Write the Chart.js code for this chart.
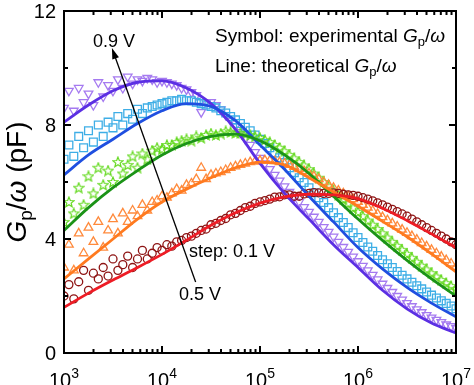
<!DOCTYPE html>
<html>
<head>
<meta charset="utf-8">
<script src="https://cdn.jsdelivr.net/npm/chart.js@4"></script>
<style>
html, body { margin: 0; padding: 0; background: #fff; }
</style>
</head>
<body>
<canvas id="myChart" width="474" height="385"></canvas>
<script>
// measured frequencies (Hz), 20 per decade
var freqExp = [1000, 1122, 1259, 1413, 1585, 1778, 1995, 2239, 2512, 2818,
  3162, 3548, 3981, 4467, 5012, 5623, 6310, 7079, 7943, 8913,
  10000, 11220, 12589, 14125, 15849, 17783, 19953, 22387, 25119, 28184,
  31623, 35481, 39811, 44668, 50119, 56234, 63096, 70795, 79433, 89125,
  100000, 112202, 125893, 141254, 158489, 177828, 199526, 223872, 251189, 281838,
  316228, 354813, 398107, 446684, 501187, 562341, 630957, 707946, 794328, 891251,
  1000000, 1122018, 1258925, 1412538, 1584893, 1778279, 1995262, 2238721, 2511886, 2818383,
  3162278, 3548134, 3981072, 4466836, 5011872, 5623413, 6309573, 7079458, 7943282, 8912509,
  10000000];

// experimental Gp/w (pF), one list per bias
var exp05 = [2.0, 2.4, 1.9, 2.5, 2.9, 2.2, 2.8, 2.6, 3.0, 2.7,
  3.3, 2.9, 3.1, 3.4, 3.0, 3.3, 3.6, 3.3, 3.5, 3.7,
  3.6, 3.8, 3.75, 3.9, 3.95, 4.05, 4.1, 4.2, 4.3, 4.35,
  4.5, 4.55, 4.65, 4.72, 4.85, 4.9, 5.0, 5.1, 5.15, 5.25,
  5.3, 5.35, 5.4, 5.47, 5.48, 5.55, 5.55, 5.5, 5.5, 5.58,
  5.6, 5.63, 5.62, 5.6, 5.6, 5.62, 5.6, 5.57, 5.55, 5.53,
  5.5, 5.45, 5.4, 5.34, 5.27, 5.2, 5.12, 5.04, 4.96, 4.88,
  4.8, 4.7, 4.6, 4.5, 4.4, 4.3, 4.2, 4.1, 4.0, 3.9,
  3.8];
var exp06 = [3.0, 3.8, 2.9, 4.2, 3.5, 4.4, 3.9, 4.6, 3.7, 4.3,
  4.7, 4.2, 4.9, 4.6, 5.0, 4.8, 5.2, 5.0, 5.3, 5.35,
  5.5, 5.45, 5.6, 5.75, 5.7, 5.9, 5.95, 6.1, 6.5, 6.1,
  6.25, 6.3, 6.35, 6.42, 6.5, 6.55, 6.6, 6.65, 6.7, 6.72,
  6.75, 6.76, 6.75, 6.73, 6.7, 6.65, 6.6, 6.53, 6.45, 6.38,
  6.3, 6.2, 6.1, 6.0, 5.9, 5.8, 5.7, 5.6, 5.5, 5.4,
  5.3, 5.2, 5.1, 4.99, 4.88, 4.77, 4.66, 4.55, 4.44, 4.33,
  4.22, 4.1, 3.98, 3.86, 3.74, 3.62, 3.5, 3.38, 3.26, 3.14,
  3.02];
var exp07 = [4.6, 5.3, 4.9, 5.8, 5.2, 6.2, 5.6, 6.5, 5.9, 6.4,
  6.0, 6.7, 6.3, 6.6, 6.9, 6.5, 7.0, 6.8, 7.1, 7.2,
  7.15, 7.3, 7.3, 7.4, 7.45, 7.5, 7.45, 7.6, 7.55, 7.65,
  7.7, 7.65, 7.7, 7.78, 7.75, 7.72, 7.72, 7.7, 7.65, 7.6,
  7.55, 7.48, 7.4, 7.3, 7.2, 7.08, 6.95, 6.83, 6.7, 6.58,
  6.45, 6.3, 6.15, 6.0, 5.85, 5.7, 5.55, 5.4, 5.25, 5.1,
  4.95, 4.8, 4.65, 4.5, 4.35, 4.2, 4.05, 3.9, 3.76, 3.62,
  3.48, 3.34, 3.2, 3.06, 2.93, 2.8, 2.68, 2.56, 2.45, 2.35,
  2.25];
var exp08 = [6.8, 7.3, 6.9, 7.6, 7.2, 7.8, 7.4, 8.0, 7.6, 8.1,
  7.9, 8.3, 8.0, 8.4, 8.2, 8.55, 8.4, 8.6, 8.65, 8.7,
  8.75, 8.8, 8.85, 8.85, 8.9, 8.85, 8.85, 8.8, 8.75, 8.7,
  8.65, 8.6, 8.5, 8.42, 8.3, 8.18, 8.05, 7.92, 7.8, 7.65,
  7.5, 7.35, 7.2, 7.02, 6.85, 6.68, 6.5, 6.33, 6.15, 5.98,
  5.8, 5.62, 5.45, 5.28, 5.1, 4.92, 4.75, 4.58, 4.4, 4.22,
  4.05, 3.88, 3.72, 3.57, 3.42, 3.27, 3.13, 3.0, 2.86, 2.73,
  2.6, 2.48, 2.36, 2.25, 2.14, 2.03, 1.93, 1.83, 1.74, 1.65,
  1.55];
var exp09 = [8.6, 9.2, 8.5, 9.3, 8.8, 9.1, 8.7, 9.5, 9.0, 9.4,
  9.2, 9.6, 9.3, 9.7, 9.45, 9.6, 9.55, 9.65, 9.6, 9.5,
  9.55, 9.5, 9.45, 9.4, 9.3, 9.25, 9.15, 9.05, 8.45, 8.8,
  8.8, 8.7, 8.55, 8.35, 8.15, 7.95, 7.75, 7.5, 7.3, 7.05,
  6.85, 6.65, 6.45, 6.25, 6.05, 5.85, 5.65, 5.48, 5.3, 5.12,
  4.95, 4.78, 4.6, 4.42, 4.25, 4.08, 3.9, 3.72, 3.55, 3.38,
  3.22, 3.06, 2.9, 2.74, 2.58, 2.43, 2.28, 2.14, 2.0, 1.87,
  1.75, 1.64, 1.53, 1.43, 1.33, 1.24, 1.16, 1.08, 1.0, 0.94,
  0.88];

// frequencies of the theoretical curves
var freqFit = [1000, 1778, 3162, 5623, 10000, 17783, 31623, 56234, 100000,
  177828, 316228, 562341, 1000000, 1778279, 3162278, 5623413, 10000000];
var fit05 = [1.6, 2.1, 2.56, 3.0, 3.46, 3.96, 4.48, 4.92, 5.26, 5.48, 5.57, 5.55, 5.42, 5.08, 4.65, 4.18, 3.7];
var fit06 = [2.6, 3.3, 4.0, 4.7, 5.3, 5.75, 6.15, 6.5, 6.7, 6.6, 6.15, 5.65, 5.15, 4.62, 4.08, 3.48, 2.85];
var fit07 = [4.3, 5.1, 5.8, 6.4, 6.95, 7.35, 7.6, 7.68, 7.45, 6.95, 6.3, 5.5, 4.7, 3.95, 3.25, 2.6, 2.0];
var fit08 = [6.25, 6.95, 7.5, 8.05, 8.5, 8.75, 8.65, 8.15, 7.3, 6.45, 5.5, 4.6, 3.7, 2.95, 2.3, 1.75, 1.27];
var fit09 = [8.1, 8.7, 9.2, 9.5, 9.55, 9.3, 8.75, 7.85, 6.65, 5.6, 4.7, 3.8, 3.0, 2.2, 1.55, 1.05, 0.7];

var xTicks = [1e3, 1e4, 1e5, 1e6, 1e7];
var yTicks = [0, 4, 8, 12];
var yMinor = [2, 6, 10];

// arrow from 0.5 V to 0.9 V (data coordinates)
var arrowTail = { x: 22030, y: 2.49 };
var arrowTip = { x: 3083, y: 10.7 };

var FONT = "'Liberation Sans', Arial, sans-serif";

function pts(xs, ys) {
  return xs.map(function (f, i) { return { x: f, y: ys[i] }; });
}

// hollow five point star for the 0.7 V symbols
function starImage(color) {
  var c = document.createElement('canvas');
  c.width = 12; c.height = 12;
  var g = c.getContext('2d');
  g.strokeStyle = color;
  g.lineWidth = 1.2;
  g.beginPath();
  for (var k = 0; k < 10; k++) {
    var r = k % 2 === 0 ? 5.3 : 2.3;
    var ang = -Math.PI / 2 + k * Math.PI / 5;
    var px = 6 + r * Math.cos(ang), py = 6.4 + r * Math.sin(ang);
    if (k === 0) g.moveTo(px, py); else g.lineTo(px, py);
  }
  g.closePath();
  g.stroke();
  return c;
}

function symbols(data, color, style, radius, rotation) {
  return {
    data: pts(freqExp, data),
    showLine: false,
    pointStyle: style,
    pointRadius: radius,
    pointRotation: rotation || 0,
    pointBorderColor: color,
    pointBackgroundColor: 'rgba(0,0,0,0)',
    pointBorderWidth: 1.3,
    order: 2
  };
}

function curve(data, color) {
  return {
    data: pts(freqFit, data),
    showLine: true,
    borderColor: color,
    borderWidth: 2.8,
    pointRadius: 0,
    cubicInterpolationMode: 'monotone',
    fill: false,
    order: 1
  };
}

function drawParts(ctx, parts, x, y) {
  parts.forEach(function (p) {
    ctx.font = p.font;
    ctx.fillText(p.t, x, y + (p.dy || 0));
    x += ctx.measureText(p.t).width;
  });
}

function partsWidth(ctx, parts) {
  var w = 0;
  parts.forEach(function (p) { ctx.font = p.font; w += ctx.measureText(p.t).width; });
  return w;
}

var decor = {
  id: 'decor',
  afterDraw: function (chart) {
    var ctx = chart.ctx, a = chart.chartArea;
    var xs = chart.scales.x, ys = chart.scales.y;
    ctx.save();
    ctx.strokeStyle = '#000';
    ctx.fillStyle = '#000';
    ctx.lineWidth = 2;
    ctx.strokeRect(a.left, a.top, a.right - a.left, a.bottom - a.top);

    // ticks, pointing inwards on all four sides
    ctx.beginPath();
    xTicks.forEach(function (v, i) {
      var px = xs.getPixelForValue(v);
      ctx.moveTo(px, a.bottom); ctx.lineTo(px, a.bottom - 7);
      ctx.moveTo(px, a.top); ctx.lineTo(px, a.top + 7);
      if (i < xTicks.length - 1) {
        for (var m = 2; m <= 9; m++) {
          var q = xs.getPixelForValue(v * m);
          ctx.moveTo(q, a.bottom); ctx.lineTo(q, a.bottom - 4);
          ctx.moveTo(q, a.top); ctx.lineTo(q, a.top + 4);
        }
      }
    });
    yTicks.forEach(function (v) {
      var py = ys.getPixelForValue(v);
      ctx.moveTo(a.left, py); ctx.lineTo(a.left + 7, py);
      ctx.moveTo(a.right, py); ctx.lineTo(a.right - 7, py);
    });
    yMinor.forEach(function (v) {
      var py = ys.getPixelForValue(v);
      ctx.moveTo(a.left, py); ctx.lineTo(a.left + 4, py);
      ctx.moveTo(a.right, py); ctx.lineTo(a.right - 4, py);
    });
    ctx.stroke();

    // y tick labels
    ctx.font = '20px ' + FONT;
    ctx.textAlign = 'right';
    ctx.textBaseline = 'middle';
    yTicks.forEach(function (v) {
      ctx.fillText(String(v), a.left - 8, ys.getPixelForValue(v) + 1);
    });

    // x tick labels 10^n
    ctx.textAlign = 'left';
    ctx.textBaseline = 'alphabetic';
    xTicks.forEach(function (v) {
      var e = String(Math.round(Math.log10(v)));
      var parts = [
        { t: '10', font: '20px ' + FONT },
        { t: e, font: '14px ' + FONT, dy: -9 }
      ];
      var w = partsWidth(ctx, parts);
      drawParts(ctx, parts, xs.getPixelForValue(v) - w / 2, 387);
    });

    // y axis title
    var title = [
      { t: 'G', font: 'italic 28px ' + FONT },
      { t: 'p', font: '19px ' + FONT, dy: 6 },
      { t: '/', font: '28px ' + FONT },
      { t: '\u03C9', font: 'italic 28px ' + FONT },
      { t: ' (pF)', font: '28px ' + FONT }
    ];
    var tw = partsWidth(ctx, title);
    ctx.save();
    ctx.translate(26, 182 + tw / 2);
    ctx.rotate(-Math.PI / 2);
    drawParts(ctx, title, 0, 0);
    ctx.restore();

    // legend text
    var gp = [
      { t: 'G', font: 'italic 19px ' + FONT },
      { t: 'p', font: '13px ' + FONT, dy: 4 },
      { t: '/', font: '19px ' + FONT },
      { t: '\u03C9', font: 'italic 19px ' + FONT }
    ];
    drawParts(ctx, [{ t: 'Symbol: experimental ', font: '19px ' + FONT }].concat(gp), 215, 42);
    drawParts(ctx, [{ t: 'Line: theoretical ', font: '19px ' + FONT }].concat(gp), 215, 72);

    // bias labels
    ctx.font = '18px ' + FONT;
    ctx.fillText('0.9 V', 93, 47);
    ctx.fillText('step: 0.1 V', 189, 257);
    ctx.fillText('0.5 V', 179, 300);

    // arrow
    var x0 = xs.getPixelForValue(arrowTail.x), y0 = ys.getPixelForValue(arrowTail.y);
    var x1 = xs.getPixelForValue(arrowTip.x), y1 = ys.getPixelForValue(arrowTip.y);
    var ang = Math.atan2(y1 - y0, x1 - x0);
    ctx.lineWidth = 1.3;
    ctx.beginPath();
    ctx.moveTo(x0, y0);
    ctx.lineTo(x1 - 8 * Math.cos(ang), y1 - 8 * Math.sin(ang));
    ctx.stroke();
    ctx.beginPath();
    ctx.moveTo(x1, y1);
    ctx.lineTo(x1 - 11 * Math.cos(ang) + 3.5 * Math.sin(ang), y1 - 11 * Math.sin(ang) - 3.5 * Math.cos(ang));
    ctx.lineTo(x1 - 11 * Math.cos(ang) - 3.5 * Math.sin(ang), y1 - 11 * Math.sin(ang) + 3.5 * Math.cos(ang));
    ctx.closePath();
    ctx.fill();
    ctx.restore();
  }
};

const ctx = document.getElementById('myChart');

new Chart(ctx, {
  type: 'scatter',
  data: {
    datasets: [
      symbols(exp05, '#8e1414', 'circle', 4),
      symbols(exp06, '#ff8a3c', 'triangle', 5),
      symbols(exp07, '#62d91c', starImage('#62d91c'), 6),
      symbols(exp08, '#3eaee6', 'rect', 5.5),
      symbols(exp09, '#a57af0', 'triangle', 5, 180),
      curve(fit05, '#ee1c25'),
      curve(fit06, '#ff7a1f'),
      curve(fit07, '#1b9317'),
      curve(fit08, '#1f4fe0'),
      curve(fit09, '#5b2fe3')
    ]
  },
  options: {
    responsive: false,
    animation: false,
    devicePixelRatio: 1,
    layout: { padding: { left: 64, right: 18, top: 11, bottom: 32 } },
    plugins: { legend: { display: false }, tooltip: { enabled: false } },
    scales: {
      x: { type: 'logarithmic', min: 1e3, max: 1e7, display: false },
      y: { min: 0, max: 12, display: false }
    }
  },
  plugins: [decor]
});
</script>
</body>
</html>
